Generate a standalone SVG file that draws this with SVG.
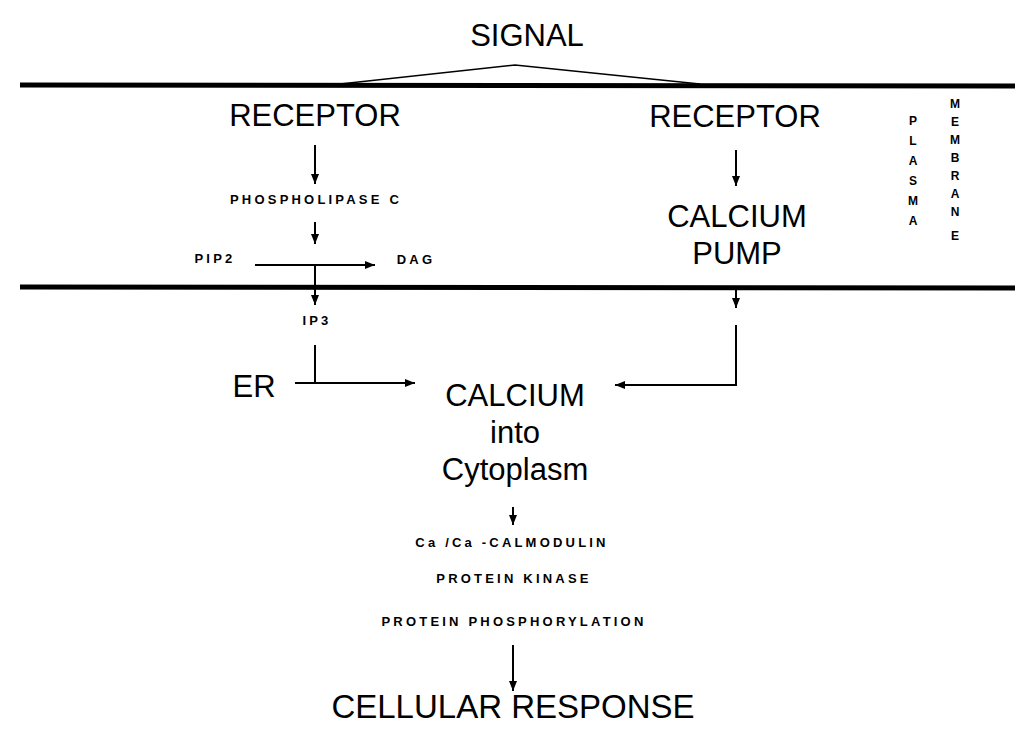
<svg xmlns="http://www.w3.org/2000/svg" width="1032" height="731" viewBox="0 0 1032 731">
<defs>
<marker id="a" viewBox="0 0 10 10" refX="10" refY="5" markerWidth="5" markerHeight="5" orient="auto"><path d="M0,1 L10,5 L0,9 z" fill="#000"/></marker>
<style>
text{font-family:"Liberation Sans",Arial,sans-serif;fill:#000;text-anchor:middle}
.b{font-size:31px}
.s{font-size:13px;font-weight:bold;letter-spacing:3.2px}
.m{font-size:12px;font-weight:bold}
.c line,.c polyline{stroke:#000;stroke-width:2;fill:none}
.c .ar{marker-end:url(#a)}
</style>
</defs>
<rect width="1032" height="731" fill="#fff"/>
<g id="membrane">
<line x1="20" y1="85" x2="1015" y2="86" stroke="#000" stroke-width="5"/>
<line x1="20" y1="287" x2="1015" y2="288" stroke="#000" stroke-width="5"/>
<polyline points="340,84 515,65 700,84" fill="none" stroke="#000" stroke-width="1.5"/>
</g>
<g id="signal"><text class="b" x="527" y="46">SIGNAL</text></g>
<g id="receptor1"><text class="b" x="315" y="126">RECEPTOR</text></g>
<g id="receptor2"><text class="b" x="735" y="127">RECEPTOR</text></g>
<g id="plasma">
<text class="m" x="913" y="125">P</text><text class="m" x="913" y="145">L</text><text class="m" x="913" y="165">A</text><text class="m" x="913" y="185">S</text><text class="m" x="913" y="205">M</text><text class="m" x="913" y="225">A</text>
</g>
<g id="membrane-label">
<text class="m" x="955" y="108">M</text><text class="m" x="955" y="126">E</text><text class="m" x="955" y="144">M</text><text class="m" x="955" y="162">B</text><text class="m" x="955" y="180">R</text><text class="m" x="955" y="198">A</text><text class="m" x="955" y="216">N</text><text class="m" x="955" y="240">E</text>
</g>
<g id="plc"><text class="s" x="316" y="204">PHOSPHOLIPASE C</text></g>
<g id="pip2"><text class="s" x="215" y="263">PIP2</text></g>
<g id="dag"><text class="s" x="416" y="264">DAG</text></g>
<g id="ip3"><text class="s" x="317" y="325">IP3</text></g>
<g id="er"><text class="b" x="254" y="397">ER</text></g>
<g id="pump"><text class="b" x="737" y="227">CALCIUM</text><text class="b" x="737" y="264">PUMP</text></g>
<g id="calcium"><text class="b" x="515" y="406">CALCIUM</text><text class="b" x="515" y="443">into</text><text class="b" x="515" y="480">Cytoplasm</text></g>
<g id="calmodulin"><text class="s" x="512" y="547">Ca /Ca -CALMODULIN</text></g>
<g id="kinase"><text class="s" x="514" y="583">PROTEIN KINASE</text></g>
<g id="phos"><text class="s" x="514" y="626">PROTEIN PHOSPHORYLATION</text></g>
<g id="response"><text class="b" x="513" y="718" style="font-size:33px">CELLULAR RESPONSE</text></g>
<g class="c" id="connectors">
<line class="ar" x1="315" y1="145" x2="315" y2="184"/>
<line class="ar" x1="315" y1="222" x2="315" y2="244"/>
<line class="ar" x1="255" y1="265" x2="375" y2="265"/>
<line class="ar" x1="315" y1="265" x2="315" y2="305"/>
<line x1="315" y1="345" x2="315" y2="383"/>
<line class="ar" x1="295" y1="383" x2="415" y2="383"/>
<line class="ar" x1="736" y1="150" x2="736" y2="186"/>
<line class="ar" x1="736" y1="290" x2="736" y2="308"/>
<polyline class="ar" points="736,325 736,385 615,385"/>
<line class="ar" x1="513" y1="507" x2="513" y2="525"/>
<line class="ar" x1="513" y1="645" x2="513" y2="691"/>
</g>
</svg>
